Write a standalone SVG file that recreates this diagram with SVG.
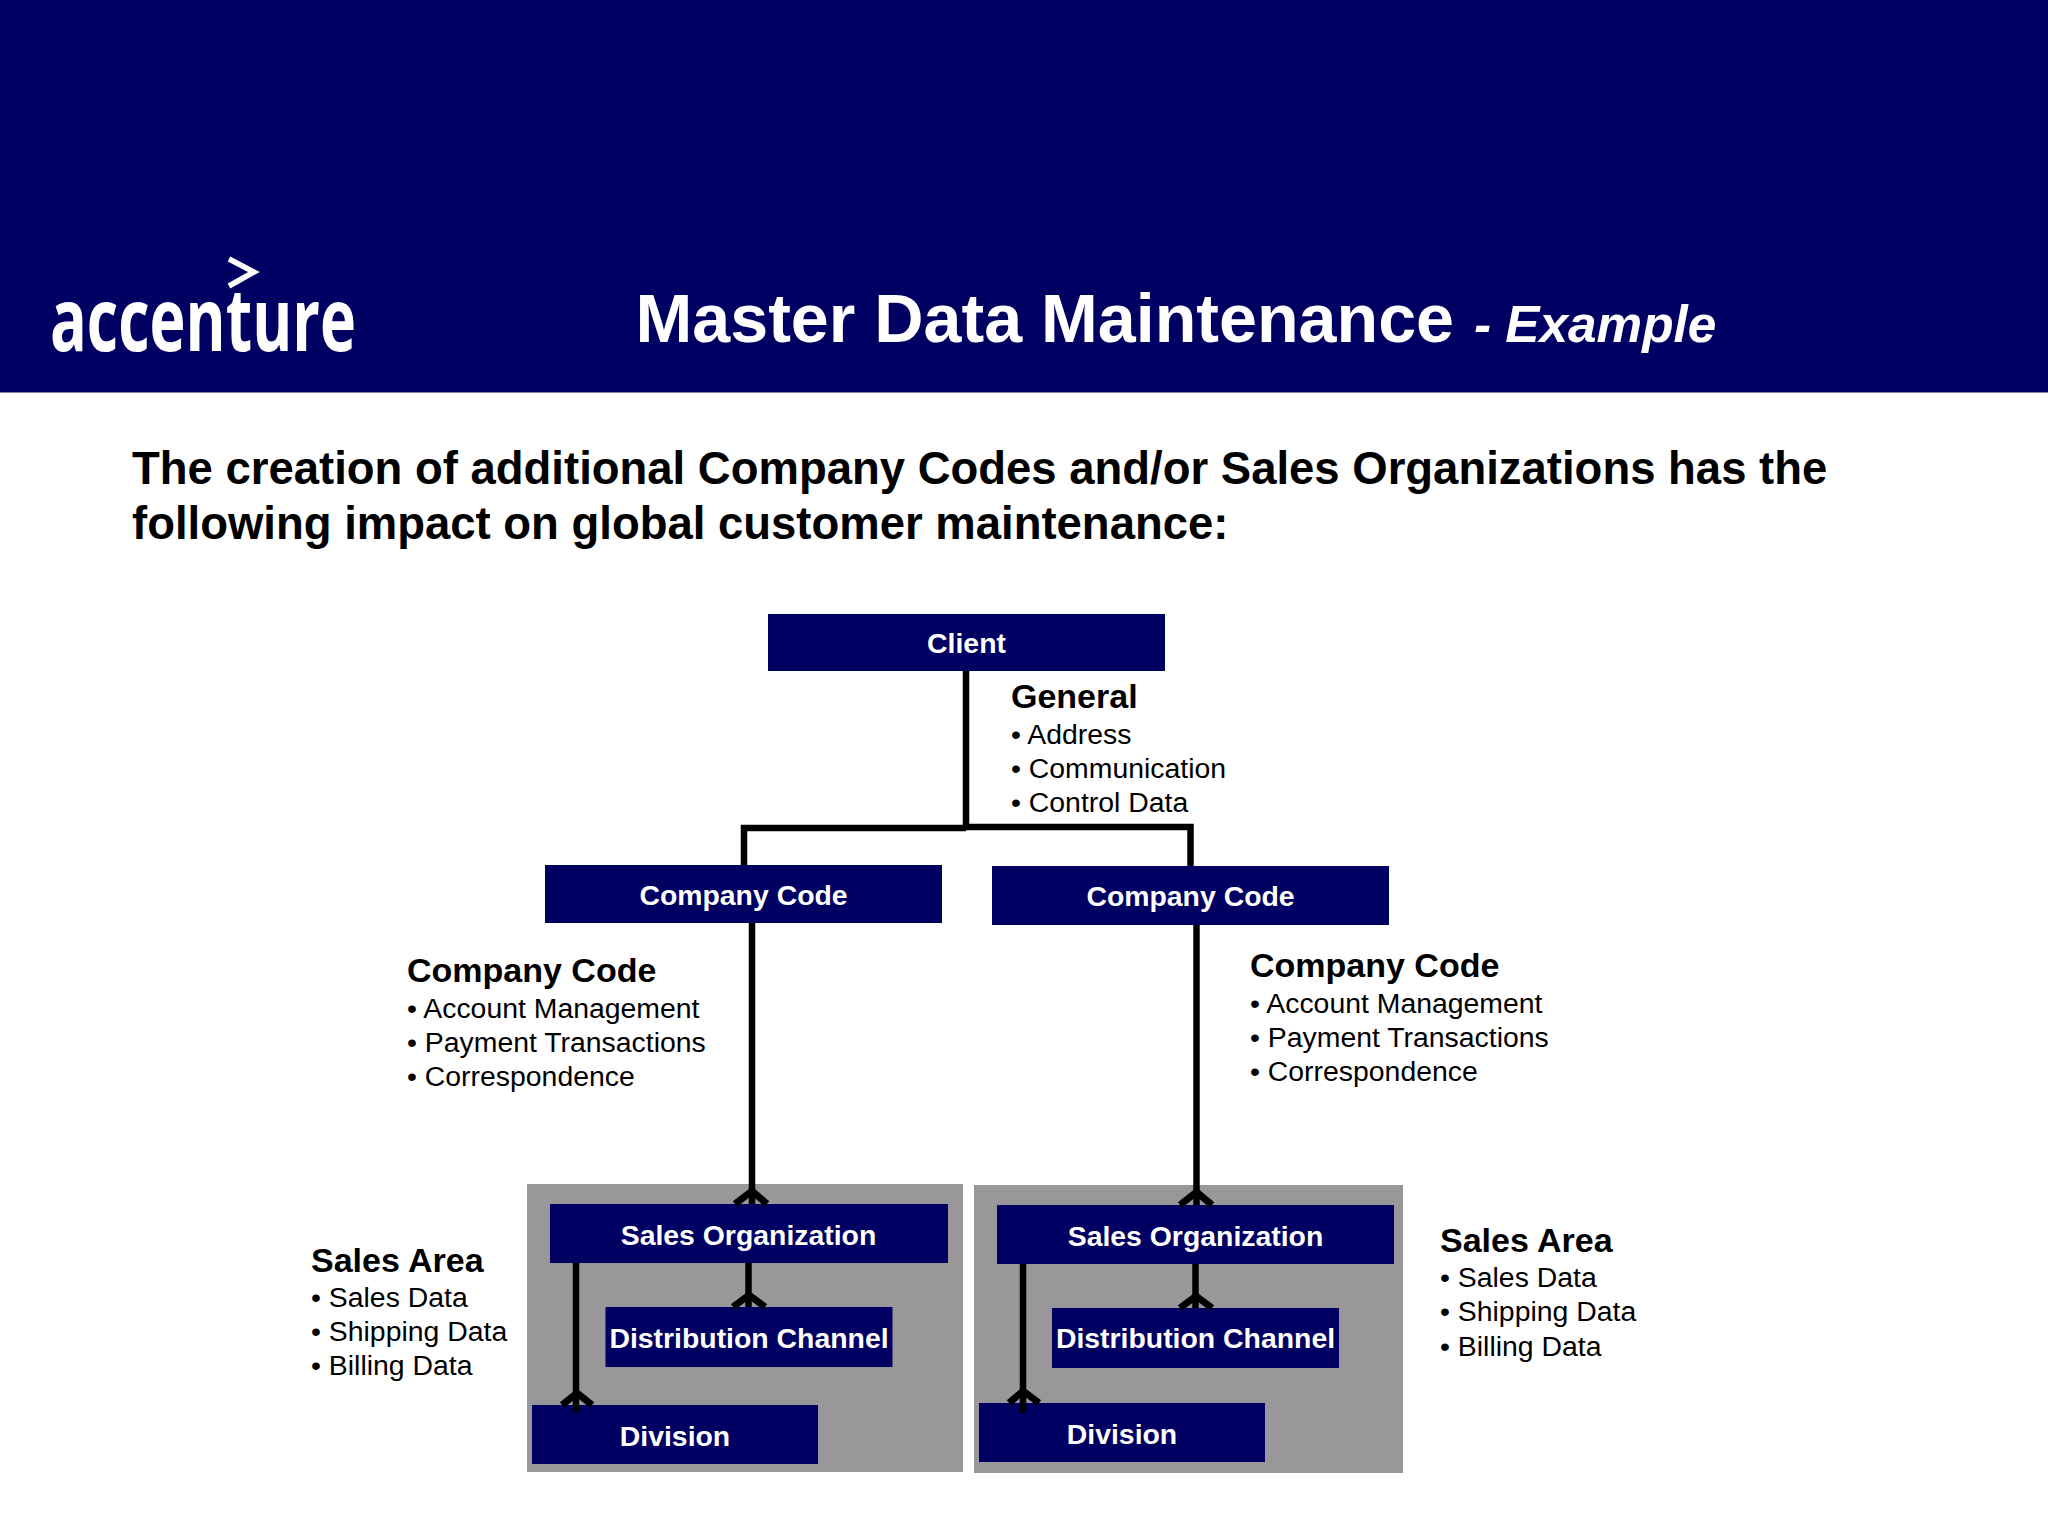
<svg xmlns="http://www.w3.org/2000/svg" width="2048" height="1536" viewBox="0 0 2048 1536">
<defs>
<style>
text{font-family:"Liberation Sans",Arial,sans-serif}
.box{fill:#000062}
.lbl{fill:#fff;font-weight:700;font-size:28.4px;text-anchor:middle}
.h{font-weight:700;font-size:34px;fill:#000}
.b{font-size:28.4px;fill:#000}
.area{fill:#999799}
.ln{fill:none;stroke:#000;stroke-width:6.5}
.ar{fill:none;stroke:#000;stroke-width:7}
</style>
</defs>
<rect width="2048" height="1536" fill="#fff"/>
<g id="header">
<rect width="2048" height="392.500" fill="#000062"/>
<polyline points="229,259 254,272 229,286" fill="none" stroke="#fff" stroke-width="5.500"/>
<text x="50" y="351" textLength="306" lengthAdjust="spacingAndGlyphs" style="font-family:'Open Sans',sans-serif;font-weight:700;font-size:88px" fill="#fff">accenture</text>
<text x="635.500" y="342" style="font-weight:700;font-size:68.2px" fill="#fff">Master Data Maintenance</text>
<text x="1474" y="342" style="font-weight:700;font-style:italic;font-size:51.300px" fill="#fff">- Example</text>
</g>
<g id="intro">
<text x="132" y="484" style="font-weight:700;font-size:45.480px" fill="#000">The creation of additional Company Codes and/or Sales Organizations has the</text>
<text x="132" y="539" style="font-weight:700;font-size:45.480px" fill="#000">following impact on global customer maintenance:</text>
</g>
<g id="area-left"><rect class="area" x="527" y="1184" width="436" height="288"/></g>
<g id="area-right"><rect class="area" x="974" y="1185" width="429" height="288"/></g>
<g id="client"><rect class="box" x="768" y="614" width="397" height="57"/><text class="lbl" x="966.500" y="653">Client</text></g>
<g id="cc-left"><rect class="box" x="545" y="865" width="397" height="58"/><text class="lbl" x="743.500" y="905">Company Code</text></g>
<g id="cc-right"><rect class="box" x="992" y="866" width="397" height="59"/><text class="lbl" x="1190.500" y="906">Company Code</text></g>
<g id="so-left"><rect class="box" x="550" y="1204" width="398" height="59"/><text class="lbl" x="748.500" y="1245">Sales Organization</text></g>
<g id="dc-left"><rect class="box" x="605.500" y="1307" width="287" height="60"/><text class="lbl" x="749" y="1348">Distribution Channel</text></g>
<g id="div-left"><rect class="box" x="532" y="1405" width="286" height="59"/><text class="lbl" x="675" y="1446">Division</text></g>
<g id="so-right"><rect class="box" x="997" y="1205" width="397" height="59"/><text class="lbl" x="1195.500" y="1246">Sales Organization</text></g>
<g id="dc-right"><rect class="box" x="1052" y="1308" width="287" height="60"/><text class="lbl" x="1195.500" y="1348">Distribution Channel</text></g>
<g id="div-right"><rect class="box" x="979" y="1403" width="286" height="59"/><text class="lbl" x="1122" y="1444">Division</text></g>
<g id="connectors">
<path class="ln" d="M966 671V828M744 865V828H966M966 827H1190.500V866"/>
<path class="ln" d="M752 923V1204M1196.500 925V1205M748.500 1263V1307M1195.500 1264V1308M576 1263V1412M1023 1264V1413"/>
<path class="ar" d="M735 1204L752 1191L767 1204M1180 1205L1196.500 1192L1212 1205M733 1307L749 1295L765 1307M1180 1308L1196 1296L1212 1308M562 1405L577 1393L592 1405M1009 1403L1023 1391L1039 1403"/>
</g>
<g id="note-general"><text class="h" x="1011" y="708">General</text><text class="b" x="1011" y="743.500">• Address</text><text class="b" x="1011" y="778">• Communication</text><text class="b" x="1011" y="812">• Control Data</text></g>
<g id="note-cc-left"><text class="h" x="407" y="982">Company Code</text><text class="b" x="407" y="1018">• Account Management</text><text class="b" x="407" y="1052">• Payment Transactions</text><text class="b" x="407" y="1086">• Correspondence</text></g>
<g id="note-cc-right"><text class="h" x="1250" y="977">Company Code</text><text class="b" x="1250" y="1012.500">• Account Management</text><text class="b" x="1250" y="1047">• Payment Transactions</text><text class="b" x="1250" y="1081">• Correspondence</text></g>
<g id="note-sa-left"><text class="h" x="311" y="1272">Sales Area</text><text class="b" x="311" y="1307">• Sales Data</text><text class="b" x="311" y="1341">• Shipping Data</text><text class="b" x="311" y="1375">• Billing Data</text></g>
<g id="note-sa-right"><text class="h" x="1440" y="1252">Sales Area</text><text class="b" x="1440" y="1287">• Sales Data</text><text class="b" x="1440" y="1321">• Shipping Data</text><text class="b" x="1440" y="1356">• Billing Data</text></g>
</svg>
